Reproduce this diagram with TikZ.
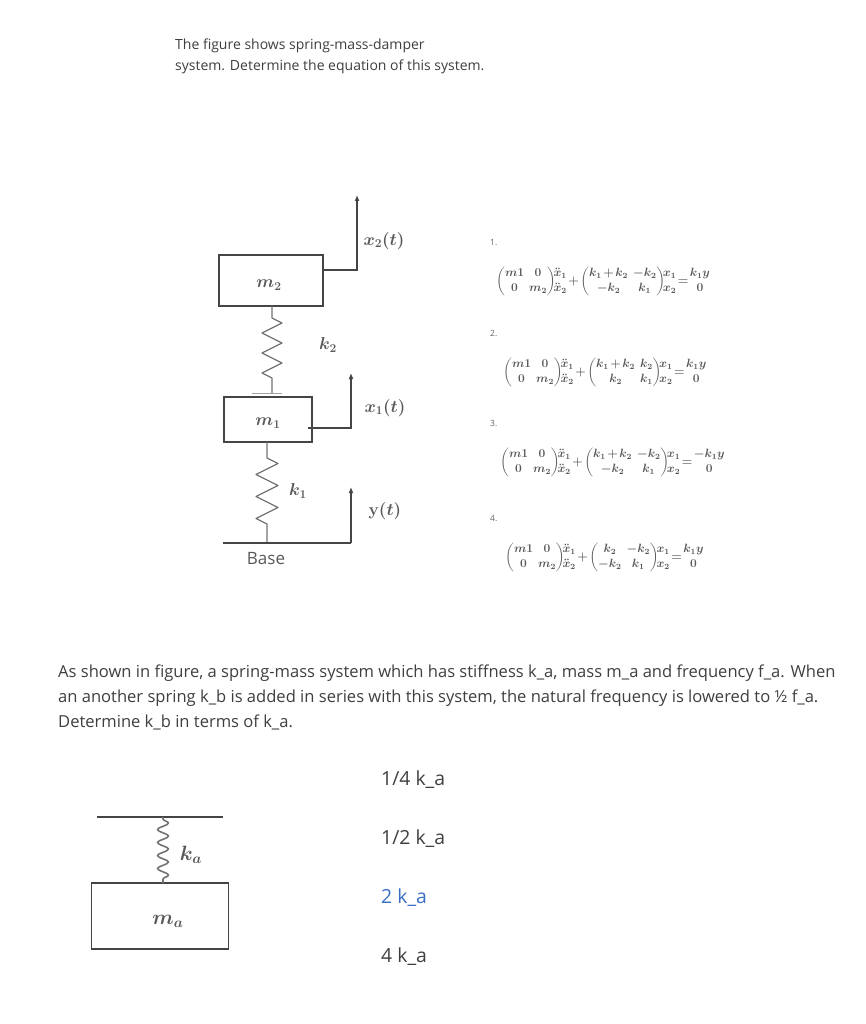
\documentclass[tikz,border=0pt]{standalone}
\usepackage{amsmath}
\usepackage[no-math]{fontspec}
\setmainfont{Open Sans}
\usetikzlibrary{decorations.pathmorphing,arrows.meta}
\definecolor{txt}{HTML}{3F3F3F}
\definecolor{lnk}{HTML}{3A6FC4}
\definecolor{lin}{HTML}{454545}
\tikzset{
  body/.style={font=\fontsize{14}{17}\selectfont,text=txt,anchor=base west,inner sep=0pt},
  para/.style={font=\fontsize{16.55}{20}\selectfont,text=txt,anchor=base west,inner sep=0pt},
  answer/.style={font=\fontsize{19.4}{22}\selectfont,text=txt,anchor=base west,inner sep=0pt},
  num/.style={font=\fontsize{8.5}{10}\selectfont,text=txt!80,anchor=base west,inner sep=0pt},
  lab/.style={font=\fontsize{18.2}{22}\selectfont\boldmath,text=lin!90,inner sep=0pt},
  labbig/.style={lab,font=\fontsize{20}{24}\selectfont\boldmath},
  eqn/.style={font=\fontsize{11.8}{13.5}\selectfont\boldmath,text=lin!90,anchor=west,inner sep=0pt},
  massbox/.style={draw=lin,line width=1.2pt,fill=white,inner sep=0pt},
  wire/.style={draw=lin,line width=1.2pt},
  upline/.style={wire,-{Latex[length=6pt,width=5pt]}},
  spring/.style={draw=lin!75,line width=1.3pt,line join=round,decorate,
    decoration={zigzag,amplitude=10pt,segment length=20pt,pre length=12pt,post length=13pt}},
}
\newcommand{\eqa}[5]{$\renewcommand{\arraystretch}{1.12}\setlength{\arraycolsep}{2.5pt}\nulldelimiterspace=0pt\medmuskip=2mu\thickmuskip=2mu\left(\begin{matrix}m1&0\\0&m_2\end{matrix}\right)\!\!\begin{matrix}\ddot x_1\\\ddot x_2\end{matrix}+\left(\begin{matrix}#1&#2\\#3&#4\end{matrix}\right)\!\!\begin{matrix}x_1\\x_2\end{matrix}=\begin{matrix}#5\\0\end{matrix}$}
\begin{document}
\begin{tikzpicture}[x=1pt,y=-1pt]
\useasboundingbox (0,0) rectangle (865,1024);
\fill[white] (0,0) rectangle (865,1024);

\node[body] (t1) at (175,50) {The figure shows spring-mass-damper};
\node[body] (t2) at (175,70.5) {system. Determine the equation of this system.};

% upper mechanical system
\node[massbox,minimum width=104pt,minimum height=51pt] (m2) at (271,280.5) {};
\node[lab] (m2l) at (269,285) {$m_2$};
\node[massbox,line width=1.9pt,minimum width=88pt,minimum height=45pt] (m1) at (268,419.5) {};
\node[lab] (m1l) at (268,423) {$m_1$};
\coordinate (s2a) at (272,306);
\coordinate (s2b) at (272,393);
\coordinate (s1a) at (267,442);
\coordinate (s1b) at (267,543);
\coordinate (plateL) at (252,393);
\coordinate (plateR) at (282,393);
\draw[spring] (s2a) -- (s2b);
\draw[draw=lin!50,line width=0.8pt] (plateL) -- (plateR);
\draw[spring,decoration={pre length=16pt,post length=18pt,segment length=22pt,amplitude=11pt}] (s1a) -- (s1b);
\coordinate (baseL) at (223,543);
\coordinate (baseR) at (351,543);
\draw[wire] (baseL) -- (baseR);
\node[lab,font=\fontsize{17}{20}\selectfont] (base) at (266,559) {Base};

\coordinate (a2) at (323,270);
\coordinate (c2) at (357,270);
\coordinate (e2) at (357,195);
\draw[upline] (a2) -- (c2) -- (e2);
\coordinate (a1) at (308,428);
\coordinate (c1) at (351,428);
\coordinate (e1) at (351,373);
\draw[upline] (a1) -- (c1) -- (e1);
\coordinate (e0) at (351,487);
\draw[upline] (baseR) -- (e0);

\node[lab] (x2l) at (384,241) {$x_2(t)$};
\node[lab] (k2l) at (328,345) {$k_2$};
\node[lab] (x1l) at (385,408) {$x_1(t)$};
\node[lab] (k1l) at (298,491) {$k_1$};
\node[lab] (yl) at (385,511) {$\mathrm{y}(t)$};

% options
\node[num] (n1) at (490,245) {1.};
\node[eqn] (e1q) at (496,281) {\eqa{k_1+k_2}{-k_2}{-k_2}{k_1}{k_1y}};
\node[num] (n2) at (490,336) {2.};
\node[eqn] (e2q) at (503,372) {\eqa{k_1+k_2}{k_2}{k_2}{k_1}{k_1y}};
\node[num] (n3) at (490,426) {3.};
\node[eqn] (e3q) at (500,462) {\eqa{k_1+k_2}{-k_2}{-k_2}{k_1}{-k_1y}};
\node[num] (n4) at (490,521) {4.};
\node[eqn] (e4q) at (505,557) {\eqa{k_2}{-k_2}{-k_2}{k_1}{k_1y}};

% second question
\node[para] (p1) at (58,677) {As shown in figure, a spring-mass system which has stiffness k\_a, mass m\_a and frequency f\_a. When};
\node[para] (p2) at (58,702) {an another spring k\_b is added in series with this system, the natural frequency is lowered to ½ f\_a.};
\node[para] (p3) at (58,727) {Determine k\_b in terms of k\_a.};

\node[answer] (o1) at (381,785) {1/4 k\_a};
\node[answer] (o2) at (381,844) {1/2 k\_a};
\node[answer,text=lnk] (o3) at (381,903) {2 k\_a};
\node[answer] (o4) at (381,962) {4 k\_a};

% lower system
\coordinate (topL) at (97,817);
\coordinate (topR) at (223,817);
\draw[wire] (topL) -- (topR);
\node[massbox,line width=1.5pt,minimum width=137pt,minimum height=66pt] (ma) at (160,916) {};
\node[labbig] (mal) at (168,921) {$m_a$};
\node[labbig] (kal) at (191,855) {$k_a$};
\coordinate (sat) at (163,817);
\coordinate (sab) at (163,883);
\draw[draw=lin!75,line width=1.6pt,line join=round,decorate,
  decoration={snake,amplitude=5.5pt,segment length=13pt,pre length=2pt,post length=2pt}] (sat) -- (sab);
\end{tikzpicture}
\end{document}
